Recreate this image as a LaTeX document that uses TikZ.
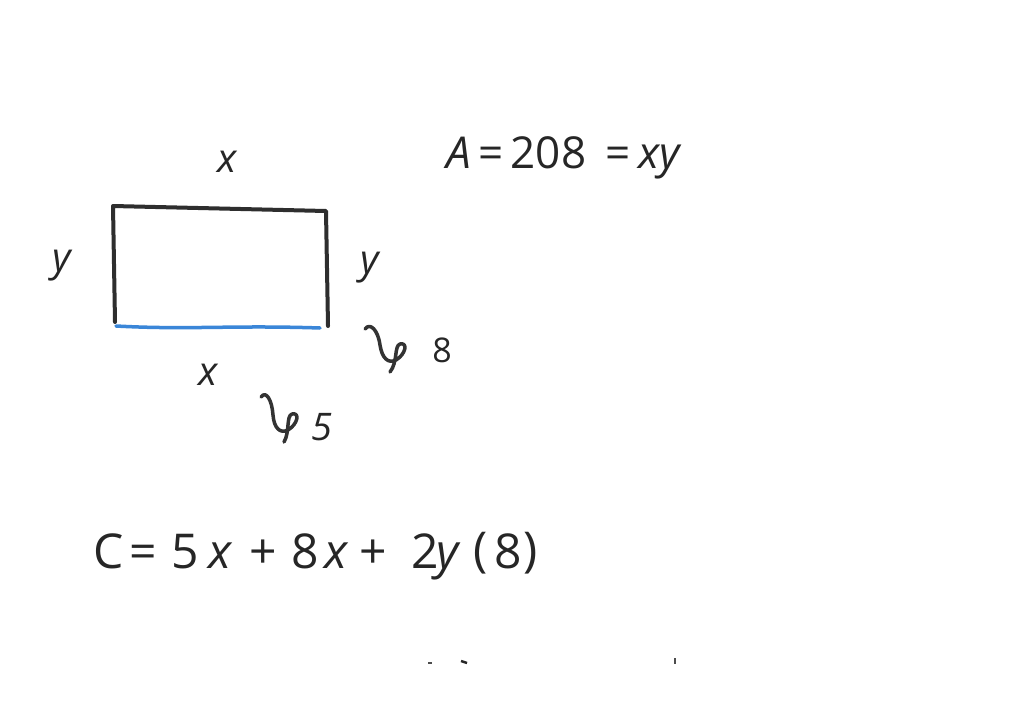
\documentclass[tikz,border=0pt]{standalone}
\usepackage{fontspec}
\setmainfont{Open Sans}
\begin{document}
\begin{tikzpicture}[x=1pt,y=-1pt,
  ink/.style={draw=black!82,line width=4pt,line cap=round,line join=round},
  bluel/.style={draw={rgb,255:red,58;green,134;blue,216},line width=3.5pt,line cap=round},
  lbl/.style={font=\fontsize{40}{44}\selectfont,text=black!85,inner sep=0pt},
  eqn/.style={font=\fontsize{44}{48}\selectfont,text=black!85,inner sep=0pt,anchor=west},
  tok/.style={font=\fontsize{48}{52}\selectfont,text=black!85,inner sep=0pt,anchor=base},
  hook/.style={draw=black!80,line width=3.5pt,line cap=round,line join=round}]
\useasboundingbox (0,0) rectangle (1024,712);
\fill[white] (0,0) rectangle (1024,712);
% rectangle corners
\coordinate (tl) at (113,206);
\coordinate (tr) at (326,211);
\coordinate (bl) at (115,322);
\coordinate (br) at (328,326);
\coordinate (bbl) at (116,326);
\coordinate (bbr) at (320,328);
\draw[ink] (bl) -- (tl) -- (tr) -- (br);
\draw[bluel] (bbl) .. controls (190,330) and (230,325) .. (bbr);
% labels
\node[lbl] (xtop) at (227,162) {\itshape x};
\node[lbl] (yleft) at (62,266) {\itshape y};
\node[lbl] (yright) at (370,268) {\itshape y};
\node[lbl] (xbot) at (208,375) {\itshape x};
\node[lbl,font=\fontsize{34}{38}\selectfont] (eight) at (442,350) {8};
\node[lbl,font=\fontsize{38}{42}\selectfont] (five) at (322,427) {\itshape 5};
% hooks
\coordinate (h1s) at (365,329);
\coordinate (h1e) at (390,372);
\draw[hook] (h1s) .. controls (370,322) and (378,330) .. (380,345)
  .. controls (382,358) and (388,364) .. (396,360)
  .. controls (406,354) and (408,342) .. (400,344)
  .. controls (394,346) and (398,362) .. (h1e);
\coordinate (h2s) at (261,397);
\coordinate (h2e) at (284,442);
\draw[hook] (h2s) .. controls (266,390) and (272,400) .. (273,415)
  .. controls (274,428) and (280,434) .. (288,430)
  .. controls (298,424) and (300,412) .. (292,414)
  .. controls (286,416) and (290,432) .. (h2e);
% equations
\node[eqn] (aeq) at (446,158) {\itshape A\upshape\,=\,208\;\,=\,\itshape xy};
\node[tok] (c1) at (109,568) {C};
\node[tok] (c2) at (143,568) {=};
\node[tok] (c3) at (185,568) {5};
\node[tok] (c4) at (220,568) {\itshape x};
\node[tok] (c5) at (263,568) {+};
\node[tok] (c6) at (305,568) {8};
\node[tok] (c7) at (336,568) {\itshape x};
\node[tok] (c8) at (373,568) {+};
\node[tok] (c9) at (425,568) {2};
\node[tok] (c10) at (448,568) {\itshape y};
\node[tok] (c11) at (481,566) {(};
\node[tok] (c12) at (508,568) {8};
\node[tok] (c13) at (531,566) {)};
% stray marks at the bottom
\coordinate (m1) at (428,663);
\coordinate (m2) at (432,663);
\coordinate (m3) at (461,661);
\coordinate (m4) at (467,663);
\coordinate (m5) at (675,658);
\coordinate (m6) at (675,664);
\draw[black!70,line width=1.5pt] (m1) -- (m2);
\draw[black!85,line width=2.5pt] (m3) -- (m4);
\draw[black!70,line width=2pt] (m5) -- (m6);
\end{tikzpicture}
\end{document}
